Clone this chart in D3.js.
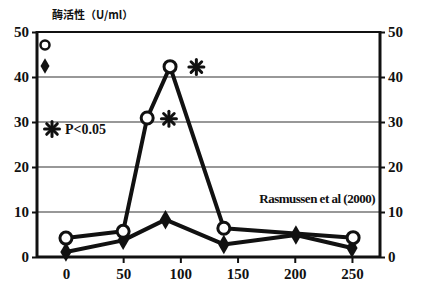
<!DOCTYPE html>
<html>
<head>
<meta charset="utf-8">
<script src="https://cdn.jsdelivr.net/npm/d3@7"></script>
<style>
  body { margin: 0; background: #fff; }
  text { font-family: "Liberation Serif", "Times New Roman", serif; font-weight: bold; fill: #111; }
</style>
</head>
<body>
<div id="chart"></div>
<script>
// data
var circleX = [0, 50, 71, 91, 138, 251];
var circleY = [4.2, 5.7, 30.9, 42.3, 6.4, 4.3];
var diamondX = [0, 50, 87, 138, 201, 250];
var diamondY = [1.1, 3.7, 8.3, 2.8, 4.9, 2.0];
var xTicks = [0, 50, 100, 150, 200, 250];
var yTicks = [0, 10, 20, 30, 40, 50];
var starX = [114, 90];   // significance marks
var starY = [42.2, 30.7];

var w = 432, h = 295;
var plotL = 37, plotR = 380, plotT = 32, plotB = 257;

var svg = d3.select("#chart").append("svg")
	.attr("width", w)
	.attr("height", h);

var x = d3.scaleLinear().domain([-25.3, 274.5]).range([plotL, plotR]);
var y = d3.scaleLinear().domain([0, 50]).range([plotB, plotT]);

// gridlines
svg.selectAll("line.grid")
	.data(yTicks.filter(function(d){ return d > 0 && d < 50; }))
	.enter().append("line")
	.attr("x1", plotL).attr("x2", plotR)
	.attr("y1", function(d){ return y(d); })
	.attr("y2", function(d){ return y(d); })
	.style("stroke", "#333").style("stroke-width", 1.2);

// frame: top thin, others thick
svg.append("line").attr("x1", plotL).attr("x2", plotR).attr("y1", plotT).attr("y2", plotT)
	.style("stroke", "#111").style("stroke-width", 2);

var axL = svg.append("g").attr("transform", "translate(" + plotL + ",0)")
	.call(d3.axisLeft(y).tickValues(yTicks).tickSize(5).tickPadding(3));
var axR = svg.append("g").attr("transform", "translate(" + plotR + ",0)")
	.call(d3.axisRight(y).tickValues(yTicks).tickSize(5).tickPadding(3));
var axB = svg.append("g").attr("transform", "translate(0," + plotB + ")")
	.call(d3.axisBottom(x).tickValues(xTicks).tickSize(6).tickPadding(5));

[axL, axR, axB].forEach(function(a){
	a.select(".domain").attr("d", null);
	a.selectAll(".tick line").style("stroke", "#111").style("stroke-width", 2);
	a.selectAll(".tick text")
		.style("font-family", "'Liberation Serif', serif")
		.style("font-weight", "bold")
		.style("font-size", "15px")
		.attr("fill", "#111");
});
axB.select(".tick line").style("stroke", "none");

svg.append("line").attr("x1", plotL).attr("x2", plotL).attr("y1", plotT - 1).attr("y2", plotB + 1)
	.style("stroke", "#111").style("stroke-width", 3);
svg.append("line").attr("x1", plotR).attr("x2", plotR).attr("y1", plotT - 1).attr("y2", plotB + 1)
	.style("stroke", "#111").style("stroke-width", 3);
svg.append("line").attr("x1", plotL).attr("x2", plotR).attr("y1", plotB).attr("y2", plotB)
	.style("stroke", "#111").style("stroke-width", 3);

var line = d3.line()
	.x(function(d){ return x(d[0]); })
	.y(function(d){ return y(d[1]); });

var circleData = d3.zip(circleX, circleY);
var diamondData = d3.zip(diamondX, diamondY);

svg.append("path").datum(circleData).attr("d", line)
	.style("fill", "none").style("stroke", "#111").style("stroke-width", 4).style("stroke-linejoin", "round");
svg.append("path").datum(diamondData).attr("d", line)
	.style("fill", "none").style("stroke", "#111").style("stroke-width", 4).style("stroke-linejoin", "round");

var diamond = d3.symbol().type(d3.symbolDiamond).size(110);

svg.selectAll("path.dia").data(diamondData).enter().append("path")
	.attr("d", diamond)
	.attr("transform", function(d){ return "translate(" + x(d[0]) + "," + y(d[1]) + ")"; })
	.style("fill", "#111");

svg.selectAll("circle.pt").data(circleData).enter().append("circle")
	.attr("cx", function(d){ return x(d[0]); })
	.attr("cy", function(d){ return y(d[1]); })
	.attr("r", 6)
	.style("fill", "#fff").style("stroke", "#111").style("stroke-width", 3);

// legend symbols (no text in original)
svg.append("circle").attr("cx", 45).attr("cy", 45).attr("r", 4.5)
	.style("fill", "#fff").style("stroke", "#111").style("stroke-width", 2.5);
svg.append("path").attr("d", d3.symbol().type(d3.symbolDiamond).size(70))
	.attr("transform", "translate(45,66)").style("fill", "#111");

// asterisk drawn as 8 arms
function asterisk(cx, cy, r) {
	var g = svg.append("g").attr("transform", "translate(" + cx + "," + cy + ")");
	[0, 45, 90, 135].forEach(function(a){
		var t = a * Math.PI / 180;
		g.append("line")
			.attr("x1", -r * Math.sin(t)).attr("y1", -r * Math.cos(t))
			.attr("x2", r * Math.sin(t)).attr("y2", r * Math.cos(t))
			.style("stroke", "#111").style("stroke-width", 3).style("stroke-linecap", "round");
	});
}
starX.forEach(function(d, i){ asterisk(x(d), y(starY[i]), 7.5); });
asterisk(52, 129, 7.5);

svg.append("text").attr("x", 65).attr("y", 134)
	.style("font-size", "14px").text("P<0.05");

svg.append("text").attr("x", 375).attr("y", 203).attr("text-anchor", "end")
	.style("font-size", "13px").style("letter-spacing", "-0.5px").text("Rasmussen et al (2000)");

svg.append("text").attr("x", 52).attr("y", 19)
	.style("font-family", "'Noto Sans CJK SC', sans-serif").style("font-weight", "bold")
	.style("font-size", "11px").text("酶活性（U/ml）");
</script>
</body>
</html>
